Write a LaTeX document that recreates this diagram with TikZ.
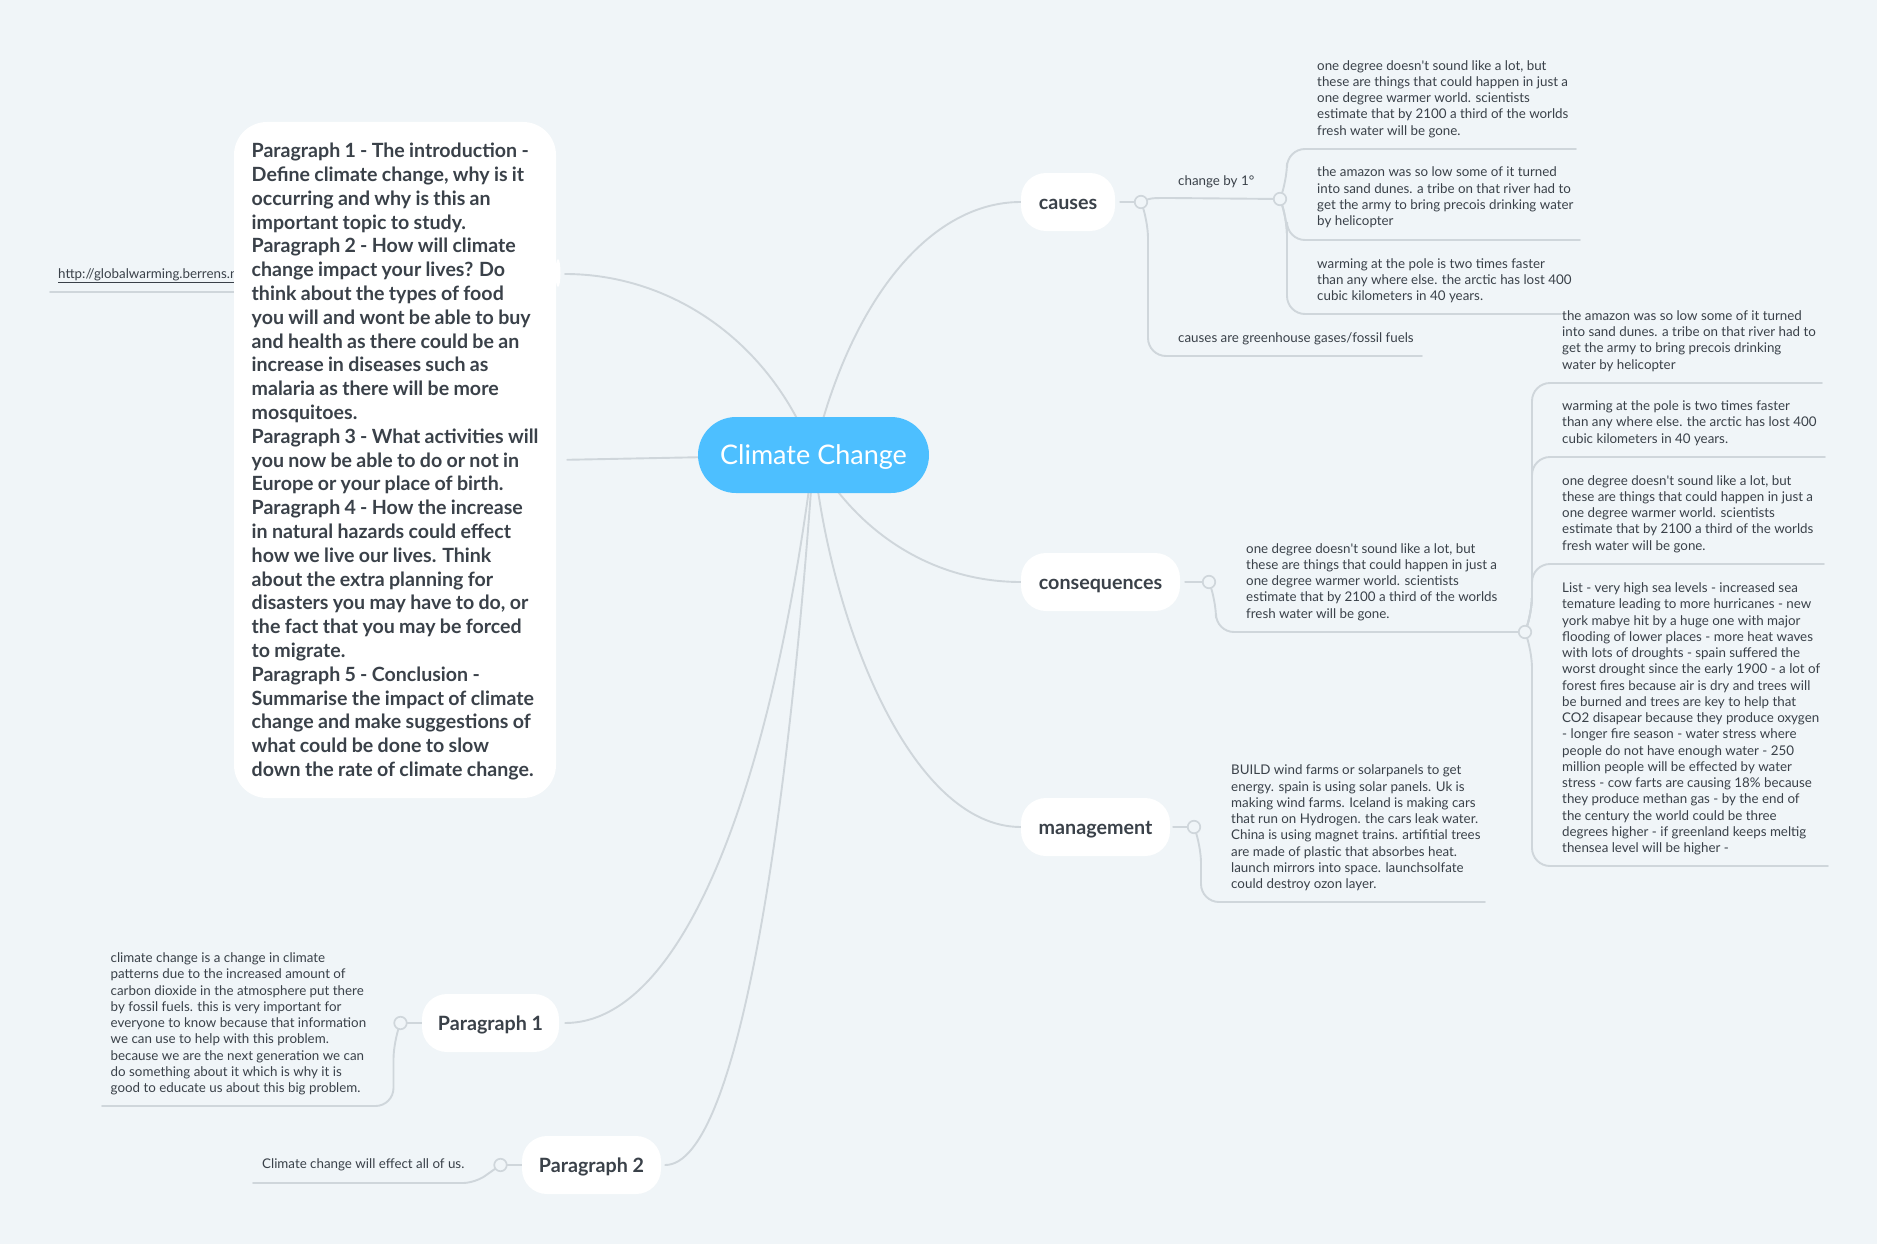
\documentclass[tikz,border=0pt]{standalone}
\usepackage{tkz-euclide}
\usepackage{fontspec}
\setmainfont{Lato}
\newfontfamily\essayfont[WordSpace=0.9]{Lato}
\usetikzlibrary{backgrounds,calc}
\definecolor{paper}{HTML}{F0F5F8}
\definecolor{ink}{HTML}{3A4149}
\definecolor{wire}{HTML}{CFD6DB}
\definecolor{sky}{HTML}{4DBFFF}
\tikzset{
  wirepath/.style={draw=wire,line width=1.9pt,line cap=round},
  ring/.style={circle,draw=wire,line width=1.7pt,fill=paper,minimum size=12.5pt,inner sep=0pt},
  topic/.style={rectangle,rounded corners=25pt,fill=white,text=ink,font=\fontsize{19.7}{23}\selectfont\bfseries,
    minimum height=58pt,inner sep=0pt},
  note/.style={anchor=west,align=left,inner sep=0pt,yshift=-1pt,text=ink,font=\fontsize{13.35}{16.25}\selectfont},
}
\newcommand{\elbowdown}[2]{\draw[wirepath,rounded corners=18pt] (#1.center) -- ($(#1.center)+(7,18)$) |- (#2);}
\newcommand{\elbowup}[2]{\draw[wirepath,rounded corners=18pt] (#1.center) -- ($(#1.center)+(7,-18)$) |- (#2);}
\newcommand{\lowered}[2]{\raisebox{-#1}[0pt][0pt]{#2}}
\begin{document}
\begin{tikzpicture}[x=1pt,y=-1pt]
  % 边界
  \useasboundingbox (0,0) rectangle (1877,1244);
  % 中心
  \node[rectangle,rounded corners=38pt,fill=sky,text=white,minimum width=231pt,minimum height=76pt,inner sep=0pt,
    font=\fontsize{27}{32}\selectfont] (root) at (813.5,455) {\lowered{9.5pt}{Climate Change}};
  % 主题
  \node[topic,minimum width=94pt] (causes) at (1068,202) {\lowered{7pt}{causes}};
  \node[topic,minimum width=159pt] (consequences) at (1100.5,582) {\lowered{7pt}{consequences}};
  \node[topic,minimum width=149pt] (management) at (1095.5,827) {\lowered{7pt}{management}};
  \node[topic,minimum width=137pt] (para1) at (490.5,1023) {\lowered{7pt}{Paragraph 1}};
  \node[topic,minimum width=139pt] (para2) at (591.5,1165) {\lowered{7pt}{Paragraph 2}};
  % 链接
  \node[note] (link) at (58,274.5) {\underline{http://globalwarming.berrens.n}};
  % 长文本
  \fill[white] (558,273) ellipse (2.5 and 14);
  \node[rectangle,rounded corners=33pt,fill=white,minimum width=322pt,minimum height=676pt] (essay) at (395,460) {};
  \node[anchor=west,align=left,inner sep=0pt,yshift=-1.5pt,text=ink,font=\essayfont\fontsize{19.6}{23.8}\selectfont\bfseries]
    (essaytext) at (251.5,460) {Paragraph 1 - The introduction -\\
    Define climate change, why is it\\
    occurring and why is this an\\
    important topic to study.\\
    Paragraph 2 - How will climate\\
    change impact your lives? Do\\
    think about the types of food\\
    you will and wont be able to buy\\
    and health as there could be an\\
    increase in diseases such as\\
    malaria as there will be more\\
    mosquitoes.\\
    Paragraph 3 - What activities will\\
    you now be able to do or not in\\
    Europe or your place of birth.\\
    Paragraph 4 - How the increase\\
    in natural hazards could effect\\
    how we live our lives. Think\\
    about the extra planning for\\
    disasters you may have to do, or\\
    the fact that you may be forced\\
    to migrate.\\
    Paragraph 5 - Conclusion -\\
    Summarise the impact of climate\\
    change and make suggestions of\\
    what could be done to slow\\
    down the rate of climate change.};
  % 圆环
  \node[ring] (rcauses) at (1141,202) {};
  \node[ring] (rchange) at (1280,199) {};
  \node[ring] (rconseq) at (1209,582) {};
  \node[ring] (rlist) at (1525,632) {};
  \node[ring] (rmanage) at (1194,827) {};
  \node[ring] (rpara1) at (400.5,1023) {};
  \node[ring] (rpara2) at (500.5,1165) {};
  % 定义线段端点
  \tkzDefPoints{1576/149/fa, 1580/240/fb, 1561/314/fc, 1422/356/fd, 1822/383/fe, 1825/457/ff, 1824/564/fg, 1828/866/fh, 1485/902/fi, 102/1106/fj, 253/1183/fk, 50/292/fl}
  % causes 的文字
  \node[note] (tchange) at (1178,181) {change by 1°};
  \node[note] (tgas) at (1178,338) {causes are greenhouse gases/fossil fuels};
  \node[note] (ta) at (1317,98) {one degree doesn\textquotesingle t sound like a lot, but\\these are things that could happen in just a\\one degree warmer world. scientists\\estimate that by 2100 a third of the worlds\\fresh water will be gone.};
  \node[note] (tb) at (1317,196.5) {the amazon was so low some of it turned\\into sand dunes. a tribe on that river had to\\get the army to bring precois drinking water\\by helicopter};
  \node[note] (tc) at (1317,279.5) {warming at the pole is two times faster\\than any where else. the arctic has lost 400\\cubic kilometers in 40 years.};
  % consequences 的文字
  \node[note] (td) at (1246,581) {one degree doesn\textquotesingle t sound like a lot, but\\these are things that could happen in just a\\one degree warmer world. scientists\\estimate that by 2100 a third of the worlds\\fresh water will be gone.};
  \node[note] (te) at (1562,340) {the amazon was so low some of it turned\\into sand dunes. a tribe on that river had to\\get the army to bring precois drinking\\water by helicopter};
  \node[note] (tf) at (1562,422) {warming at the pole is two times faster\\than any where else. the arctic has lost 400\\cubic kilometers in 40 years.};
  \node[note] (tg) at (1562,513) {one degree doesn\textquotesingle t sound like a lot, but\\these are things that could happen in just a\\one degree warmer world. scientists\\estimate that by 2100 a third of the worlds\\fresh water will be gone.};
  \node[note] (th) at (1562,718) {List - very high sea levels - increased sea\\temature leading to more hurricanes - new\\york mabye hit by a huge one with major\\flooding of lower places - more heat waves\\with lots of droughts - spain suffered the\\worst drought since the early 1900 - a lot of\\forest fires because air is dry and trees will\\be burned and trees are key to help that\\CO2 disapear because they produce oxygen\\- longer fire season - water stress where\\people do not have enough water - 250\\million people will be effected by water\\stress - cow farts are causing 18\% because\\they produce methan gas - by the end of\\the century the world could be three\\degrees higher - if greenland keeps meltig\\thensea level will be higher -};
  % management 的文字
  \node[note] (ti) at (1231,827) {BUILD wind farms or solarpanels to get\\energy. spain is using solar panels. Uk is\\making wind farms. Iceland is making cars\\that run on Hydrogen. the cars leak water.\\China is using magnet trains. artifitial trees\\are made of plastic that absorbes heat.\\launch mirrors into space. launchsolfate\\could destroy ozon layer.};
  % 段落的文字
  \node[note] (tj) at (110.5,1023) {climate change is a change in climate\\patterns due to the increased amount of\\carbon dioxide in the atmosphere put there\\by fossil fuels. this is very important for\\everyone to know because that information\\we can use to help with this problem.\\because we are the next generation we can\\do something about it which is why it is\\good to educate us about this big problem.};
  \node[note] (tk) at (262,1164) {Climate change will effect all of us.};
  % 线段放在下层
  \begin{scope}[on background layer]
    \fill[paper] (0,0) rectangle (1877,1244);
    % 中心出发的曲线
    \draw[wirepath] (root.center) .. controls (850,300) and (930,202) .. (causes.west);
    \draw[wirepath] (root.center) .. controls (855,530) and (930,582) .. (consequences.west);
    \draw[wirepath] (root.center) .. controls (830,620) and (910,827) .. (management.west);
    \draw[wirepath] (root.center) .. controls (770,340) and (670,274) .. (565,274);
    \draw[wirepath,shorten >=11pt] (root.center) -- (essay.east);
    \draw[wirepath,shorten >=6pt] (root.center) .. controls (770,800) and (680,1023) .. (para1.east);
    \draw[wirepath,shorten >=4pt] (root.center) .. controls (790,800) and (740,1165) .. (para2.east);
    % 短线
    \draw[wirepath,shorten <=5pt] (causes) -- (rcauses);
    \draw[wirepath,shorten <=5pt] (consequences) -- (rconseq);
    \draw[wirepath,shorten <=3pt] (management) -- (rmanage);
    \draw[wirepath] (para1) -- (rpara1);
    \draw[wirepath] (para2) -- (rpara2);
    % 分支
    \draw[wirepath] (rcauses.center) .. controls (1150,198) .. (1170,198) -- (rchange.center);
    \elbowup{rchange}{fa}
    \elbowdown{rchange}{fb}
    \elbowdown{rchange}{fc}
    \elbowdown{rcauses}{fd}
    \elbowdown{rconseq}{$(rlist.center)$}
    \elbowup{rlist}{fe}
    \elbowup{rlist}{ff}
    \elbowup{rlist}{fg}
    \elbowdown{rlist}{fh}
    \elbowdown{rmanage}{fi}
    \draw[wirepath,rounded corners=18pt] (rpara1.center) -- ++(-7,18) |- (fj);
    \draw[wirepath,rounded corners=12pt] (rpara2.center) -- (475,1183) -- (fk);
    \draw[wirepath] (fl) -- (234,292);
  \end{scope}
\end{tikzpicture}
\end{document}
